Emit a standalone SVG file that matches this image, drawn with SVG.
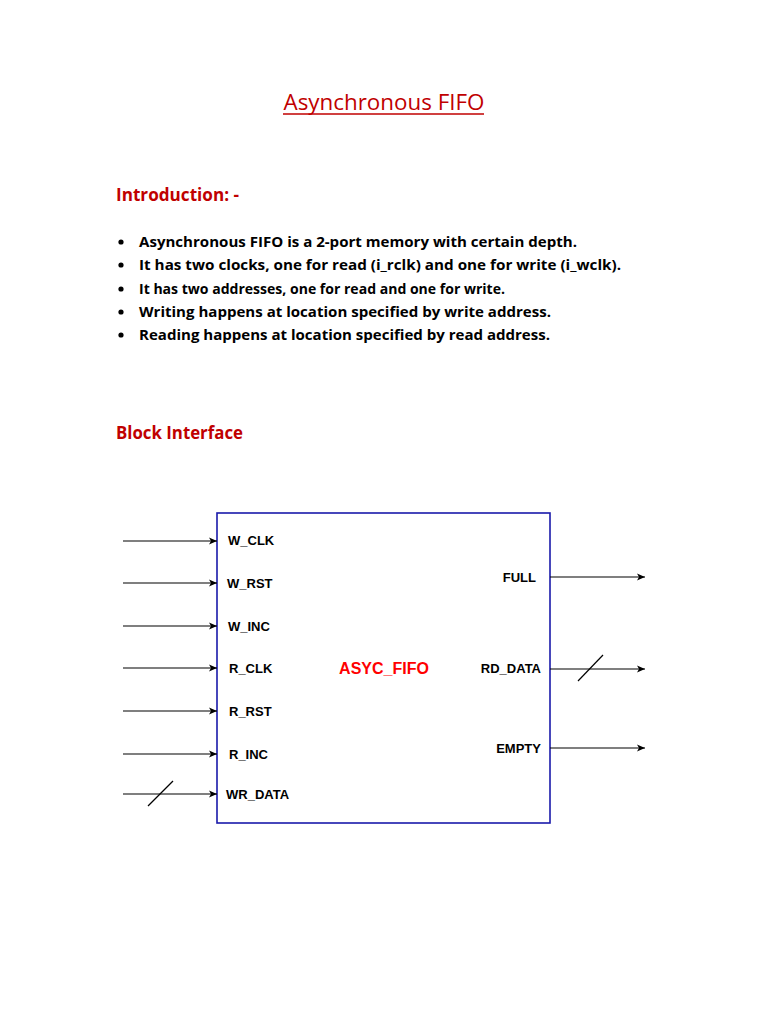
<svg xmlns="http://www.w3.org/2000/svg" width="768" height="1024" viewBox="0 0 768 1024">
<defs>
<marker id="arr" markerWidth="10" markerHeight="8" refX="8" refY="4" orient="auto" markerUnits="userSpaceOnUse">
<path d="M0,0.5 L8,4 L0,7.5 L2,4 Z" fill="#000"/>
</marker>
<style>
.doc{font-family:"Open Sans","Noto Sans","Liberation Sans",sans-serif}
.title{font-size:21px;fill:#c00000}
.head{font-size:17px;font-weight:bold;fill:#c00000}
.bul{font-size:14.5px;font-weight:bold;fill:#000}
.port{font-family:"Liberation Sans",Arial,sans-serif;font-size:13px;font-weight:bold;fill:#000}
.name{font-family:"Liberation Sans",Arial,sans-serif;font-size:16px;font-weight:bold;fill:#ff0000}
.wire{stroke:#000;stroke-width:1.2;fill:none}
.arrw{marker-end:url(#arr)}
</style>
</defs>
<rect width="768" height="1024" fill="#fff"/>
<g id="text">
<text class="doc title" x="384" y="110" text-anchor="middle" textLength="201" lengthAdjust="spacingAndGlyphs">Asynchronous FIFO</text>
<line x1="283" y1="114" x2="484" y2="114" stroke="#c00000" stroke-width="1.3"/>
<text class="doc head" x="116" y="201" textLength="123" lengthAdjust="spacingAndGlyphs">Introduction: -</text>
<g class="doc bul">
<circle cx="121" cy="242" r="2.6"/>
<circle cx="121" cy="265" r="2.6"/>
<circle cx="121" cy="289" r="2.6"/>
<circle cx="121" cy="312" r="2.6"/>
<circle cx="121" cy="335" r="2.6"/>
<text x="139" y="247" textLength="438" lengthAdjust="spacingAndGlyphs">Asynchronous FIFO is a 2-port memory with certain depth.</text>
<text x="139" y="270" textLength="482" lengthAdjust="spacingAndGlyphs">It has two clocks, one for read (i_rclk) and one for write (i_wclk).</text>
<text x="139" y="294" textLength="366" lengthAdjust="spacingAndGlyphs">It has two addresses, one for read and one for write.</text>
<text x="139" y="317" textLength="412" lengthAdjust="spacingAndGlyphs">Writing happens at location specified by write address.</text>
<text x="139" y="340" textLength="411" lengthAdjust="spacingAndGlyphs">Reading happens at location specified by read address.</text>
</g>
<text class="doc head" x="116" y="439" textLength="127" lengthAdjust="spacingAndGlyphs">Block Interface</text>
</g>
<g id="asyc_fifo">
<rect x="217" y="513" width="333" height="310" fill="#fff" stroke="#1a1aaa" stroke-width="1.6"/>
<text class="name" x="384" y="674" text-anchor="middle">ASYC_FIFO</text>
<text class="port" x="228" y="545">W_CLK</text>
<text class="port" x="227" y="588">W_RST</text>
<text class="port" x="228" y="631">W_INC</text>
<text class="port" x="229" y="673">R_CLK</text>
<text class="port" x="229" y="716">R_RST</text>
<text class="port" x="229" y="759">R_INC</text>
<text class="port" x="226" y="799">WR_DATA</text>
<text class="port" x="536" y="582" text-anchor="end">FULL</text>
<text class="port" x="541" y="673" text-anchor="end">RD_DATA</text>
<text class="port" x="541" y="753" text-anchor="end">EMPTY</text>
</g>
<g id="connectors">
<line class="wire arrw" x1="123" y1="541" x2="217" y2="541"/>
<line class="wire arrw" x1="123" y1="583" x2="217" y2="583"/>
<line class="wire arrw" x1="123" y1="626" x2="217" y2="626"/>
<line class="wire arrw" x1="123" y1="668" x2="217" y2="668"/>
<line class="wire arrw" x1="123" y1="711" x2="217" y2="711"/>
<line class="wire arrw" x1="123" y1="754" x2="217" y2="754"/>
<line class="wire arrw" x1="123" y1="794" x2="217" y2="794"/>
<line class="wire" x1="148" y1="806" x2="173" y2="781"/>
<line class="wire arrw" x1="550" y1="577" x2="645" y2="577"/>
<line class="wire arrw" x1="550" y1="669" x2="645" y2="669"/>
<line class="wire" x1="578" y1="681" x2="603" y2="655"/>
<line class="wire arrw" x1="550" y1="748" x2="645" y2="748"/>
</g>
</svg>
